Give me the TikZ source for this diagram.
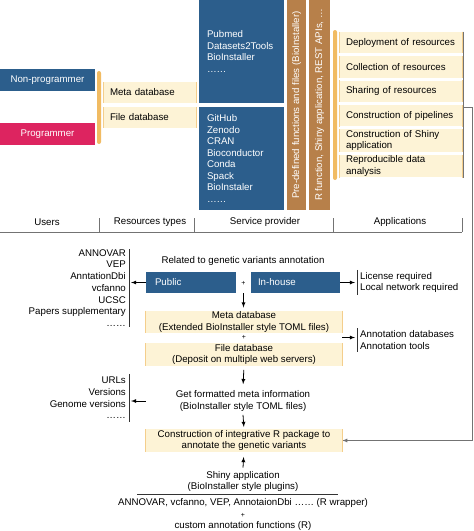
\documentclass[tikz,border=0pt]{standalone}
\usepackage{fontspec}
\setmainfont{Liberation Sans}
\usetikzlibrary{positioning,calc}

\definecolor{provblue}{RGB}{44,94,140}
\definecolor{progpink}{RGB}{221,36,96}
\definecolor{barorange}{RGB}{241,187,98}
\definecolor{dbyellow}{RGB}{253,243,214}
\definecolor{dbedge}{RGB}{244,206,140}
\definecolor{apibrown}{RGB}{183,128,74}

\begin{document}
\begin{tikzpicture}[
    x=1pt, y=-1pt,
    font=\fontsize{9.7}{11.5}\selectfont,
    user/.style={rectangle, fill=provblue, text=white, minimum width=95, minimum height=22, inner sep=0pt},
    provider/.style={rectangle, fill=provblue, text=white, text width=69, align=left, inner xsep=8, minimum width=85},
    apibar/.style={rectangle, fill=apibrown, text=white, rotate=90, inner sep=0pt},
    obar/.style={rectangle, fill=barorange, rounded corners=2pt, minimum width=4, inner sep=0pt},
    dbbox/.style={rectangle, fill=dbyellow, inner ysep=1pt},
    appbox/.style={dbbox, text width=110, inner xsep=6, align=left, minimum height=21.5},
    gline/.style={draw=black!55, line width=0.8pt},
    arrow/.style={-latex, line width=0.8pt},
    bar/.style={draw=black!80, line width=0.7pt},
    plus/.style={font=\fontsize{7}{8}\selectfont, inner sep=0pt},
    list/.style={align=right, inner sep=0pt, font=\fontsize{9.7}{11.7}\selectfont}
]
\useasboundingbox (0,0) rectangle (474,531);

% users and resource types
\node[user] (nonprog) at (47.5,80) {Non-programmer};
\node[user, fill=progpink] (prog) at (47.5,134) {Programmer};
\node[obar, minimum height=73] (userbar) at (99,107.5) {};
\node[dbbox, text width=80, inner xsep=6, align=left, minimum height=21] (meta) at (150,92.5) {Meta database};
\node[dbbox, text width=80, inner xsep=6, align=left, minimum height=21] (file) at (150,117.5) {File database};

% service provider
\node[provider, minimum height=103] (online) at (241.5,51.5) {Pubmed\\Datasets2Tools\\BioInstaller\\……};
\node[provider, minimum height=103] (repos) at (241.5,158.5) {GitHub\\Zenodo\\CRAN\\Bioconductor\\Conda\\Spack\\BioInstaler\\……};
\node[apibar, minimum width=210, minimum height=19] (predef) at (296.5,105) {Pre-defined functions and files (BioInstaller)};
\node[apibar, minimum width=210, minimum height=21] (rfunc) at (319.5,105) {R function, Shiny application, REST APIs, …};

% applications
\node[obar, minimum height=150] (appbar) at (335,105) {};
\node[appbox] (deploy) at (401,42.5) {Deployment of resources};
\node[appbox, below=2.5pt of deploy] (collect) {Collection of resources};
\node[appbox, below=2.5pt of collect] (share) {Sharing of resources};
\node[appbox, below=2.5pt of share] (pipe) {Construction of pipelines};
\node[appbox, below=2.5pt of pipe] (shinyapp) {Construction of Shiny\\application};
\node[appbox, below=2.5pt of shinyapp] (repro) {Reproducible data\\analysis};
\draw[gline] ([xshift=1.5pt]deploy.north east) -- ([xshift=1.5pt]repro.south east);

% header row
\draw[gline] (0,232) -- (462,232);
\foreach \x in {99,194,333,462}
    \draw[gline] (\x,218) -- (\x,232);
\node (husers) at (47,222) {Users};
\node (htypes) at (150,222) {Resources types};
\node (hprov) at (265,222) {Service provider};
\node (happs) at (400,222) {Applications};

% annotation workflow
\node (related) at (243,261) {Related to genetic variants annotation};
\node[user, minimum width=90, minimum height=21, text width=72, inner xsep=9, align=left] (public) at (191,282.5) {Public};
\node[user, minimum width=89, minimum height=21, text width=75, inner xsep=7, align=left] (inhouse) at (295.5,282.5) {In-house};
\node[plus] (plus1) at (243.5,283) {+};

\node[list, anchor=east] (srclist) at (126,288) {ANNOVAR\\VEP\\AnntationDbi\\vcfanno\\UCSC\\Papers supplementary\\……};
\coordinate (srcbar) at ([xshift=3pt]srclist.east);
\draw[bar] ([xshift=3pt]srclist.north east) -- ([xshift=3pt]srclist.south east);
\draw[arrow, shorten >=2pt] (public.west) -- (srcbar |- public.west);

\node[list, align=left, anchor=west, inner ysep=2pt] (access) at (360,282.5) {License required\\Local network required};
\coordinate (accbar) at ([xshift=-3pt]access.west);
\draw[bar] ([xshift=-3pt]access.north west) -- ([xshift=-3pt]access.south west);
\draw[arrow, shorten >=2pt] (inhouse.east) -- (accbar |- inhouse.east);

\node[dbbox, minimum width=196, minimum height=22, align=center] (metaann) at (244,322) {Meta database\\(Extended BioInstaller style TOML files)};
\node[plus] (plus2) at (244,337.5) {+};
\node[dbbox, minimum width=196, minimum height=22, align=center] (fileann) at (244,354.5) {File database\\(Deposit on multiple web servers)};
\draw[arrow, shorten >=3pt] (plus1 |- public.south) -- (plus1 |- metaann.north);

\node[list, align=left, anchor=west, inner ysep=2pt] (content) at (360,340) {Annotation databases\\Annotation tools};
\coordinate (contbar) at ([xshift=-3pt]content.west);
\draw[bar] ([xshift=-3pt]content.north west) -- ([xshift=-3pt]content.south west);
\draw[arrow, shorten >=2pt] (plus2 -| metaann.east) -- (contbar |- plus2);

\node[align=center] (formatted) at (243,401) {Get formatted meta information\\(BioInstaller style TOML files)};
\draw[arrow, shorten <=4pt, shorten >=3pt] (fileann.south) -- (formatted.north);

\node[list, anchor=east, inner ysep=3pt] (verlist) at (126,398) {URLs\\Versions\\Genome versions\\……};
\coordinate (verbar) at ([xshift=3pt]verlist.east);
\draw[bar] ([xshift=3pt]verlist.north east) -- ([xshift=3pt]verlist.south east);
\draw[arrow, shorten >=2pt] (fileann.west |- formatted.west) -- (verbar |- formatted.west);

\node[dbbox, minimum width=196, minimum height=22, align=center] (construct) at (244,440.5) {Construction of integrative R package to\\annotate the genetic variants};
\draw[arrow, shorten >=2pt] (formatted.south) -- (construct.north);

\node[align=center] (shiny) at (243,481.5) {Shiny application\\(BioInstaller style plugins)};
\draw[arrow, shorten >=5pt] (shiny.north) -- (construct.south);
\draw[bar] (137,494) -- (338,494);
\node (wrapper) at (243,503) {ANNOVAR, vcfanno, VEP, AnnotaionDbi …… (R wrapper)};
\node[plus] (plus3) at (243,515) {+};
\node (custom) at (243,526) {custom annotation functions (R)};

% feedback from applications
\coordinate (appmid) at (463.5,107);
\coordinate (turn) at (472,107);
\draw[gline, -latex] (appmid) -- (turn) |- (construct.east);

% box edges
\foreach \b in {meta,file,deploy,collect,share,pipe,shinyapp,repro,metaann,fileann,construct}
    \draw[draw=dbedge, line width=0.9pt] (\b.north west) -- (\b.south west) (\b.north east) -- (\b.south east);

\end{tikzpicture}
\end{document}
